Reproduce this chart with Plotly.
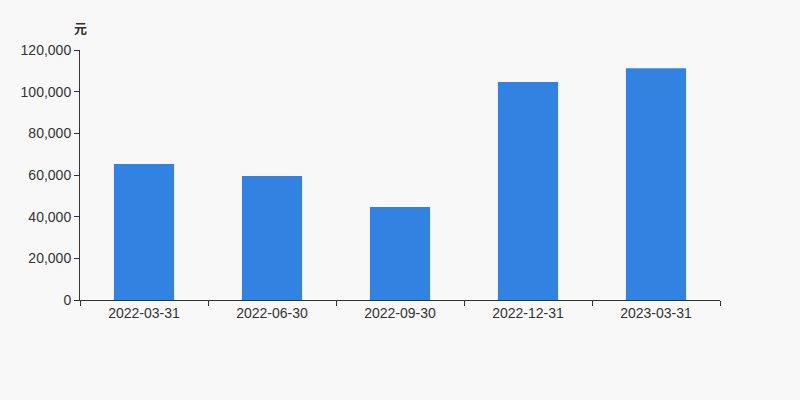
import plotly.graph_objects as go

categories = ["2022-03-31", "2022-06-30", "2022-09-30", "2022-12-31", "2023-03-31"]
values = [65300, 59500, 44600, 104600, 111300]
y_ticks = [0, 20000, 40000, 60000, 80000, 100000, 120000]
y_tick_labels = ["0", "20,000", "40,000", "60,000", "80,000", "100,000", "120,000"]
unit_label = "元"

fig = go.Figure(go.Bar(x=categories, y=values, marker=dict(color="#3282e1", line=dict(width=0)),
                       width=0.47))

fig.update_layout(
    width=800, height=400,
    margin=dict(l=80, r=80, t=50, b=100),
    paper_bgcolor="#f8f8f8", plot_bgcolor="#f8f8f8",
    font=dict(family="Liberation Sans, Arial, sans-serif", size=14, color="#333"),
    showlegend=False,
    annotations=[dict(text="<b>" + unit_label + "</b>", x=0, xref="paper", xanchor="center", y=1, yref="paper",
                      yanchor="middle", yshift=23, showarrow=False,
                      font=dict(family="Noto Sans CJK SC", size=13, color="#333"))],
)
fig.update_xaxes(type="category", showline=True, linecolor="#333", linewidth=1,
                 ticks="outside", ticklen=5, tickcolor="#333", tickson="boundaries",
                 showgrid=False, tickfont=dict(color="#333", size=14))
fig.update_yaxes(range=[0, 120000], tickvals=y_ticks, ticktext=y_tick_labels,
                 showline=True, linecolor="#333", linewidth=1, ticks="outside", ticklen=5,
                 tickcolor="#333", showgrid=False, zeroline=False, tickfont=dict(color="#333", size=14))

fig.write_html("out.html", config={"displayModeBar": False},
               post_script="document.body.style.margin='0';document.body.style.overflow='hidden';")
